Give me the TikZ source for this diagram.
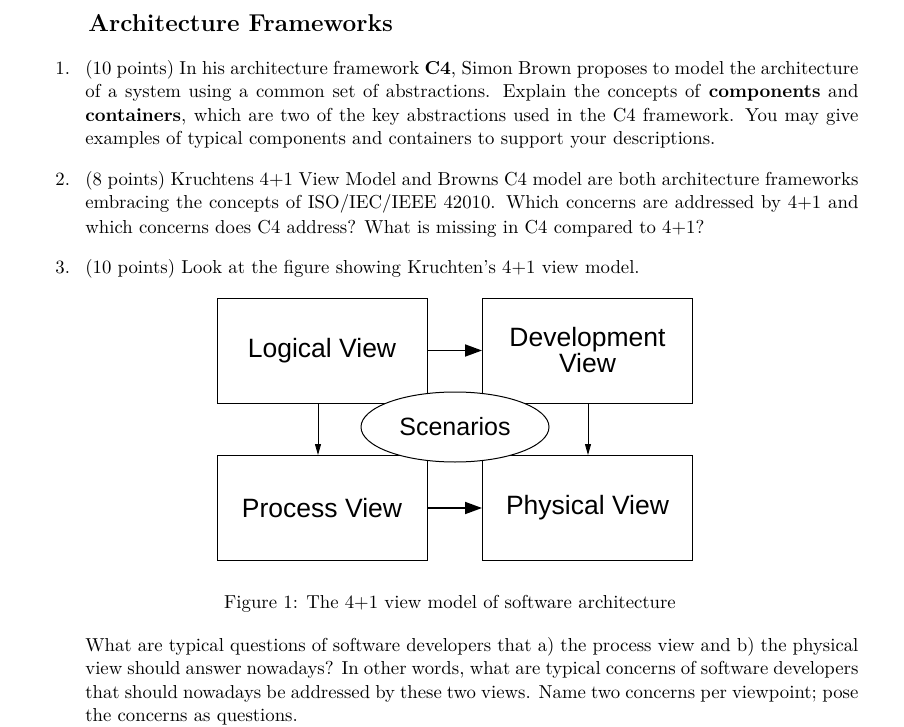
\documentclass[tikz,border=0pt]{standalone}
\usepackage{fontspec}
\newfontfamily\hv{Liberation Sans}
\usetikzlibrary{shapes.geometric,arrows.meta}
\begin{document}
\begin{tikzpicture}[x=1pt,y=-1pt,
  line/.style={anchor=base west,inner sep=0pt,scale=1.875,font=\fontsize{10}{12}\selectfont},
  box/.style={draw,line width=1pt,minimum width=210pt,minimum height=105pt,font=\hv\fontsize{26.5}{29}\selectfont,align=center},
  arr/.style={-{Triangle[length=17pt,width=12pt]},line width=1.8pt},
  varr/.style={-{Triangle[length=11pt,width=6pt]},line width=0.8pt}]
\useasboundingbox (0,0) rectangle (904,727);
\node[line,font=\bfseries\fontsize{13}{15}\selectfont] (title) at (88,32) {Architecture Frameworks};
\newcommand\jl[1]{\makebox[412.3pt][s]{#1}}
\node[line] (n1) at (55,75) {1.};
\node[line] (a1) at (85,75) {\jl{(10 points) In his architecture framework \textbf{C4}, Simon Brown proposes to model the architecture}};
\node[line] (a2) at (85,98) {\jl{of a system using a common set of abstractions. Explain the concepts of \textbf{components} and}};
\node[line] (a3) at (85,122) {\jl{\textbf{containers}, which are two of the key abstractions used in the C4 framework. You may give}};
\node[line] (a4) at (85,145) {examples of typical components and containers to support your descriptions.};
\node[line] (n2) at (55,186) {2.};
\node[line] (b1) at (85,186) {\jl{(8 points) Kruchtens 4+1 View Model and Browns C4 model are both architecture frameworks}};
\node[line] (b2) at (85,209) {\jl{embracing the concepts of ISO/IEC/IEEE 42010. Which concerns are addressed by 4+1 and}};
\node[line] (b3) at (85,233) {which concerns does C4 address? What is missing in C4 compared to 4+1?};
\node[line] (n3) at (55,273) {3.};
\node[line] (c1) at (85,273) {(10 points) Look at the figure showing Kruchten's 4+1 view model.};
\node[box] (log) at (322,350.5) {Logical View};
\node[box] (dev) at (587.5,350.5) {Development\\[-3pt]View};
\node[box] (pro) at (322,508) {Process View};
\node[box] (phy) at (587.5,508) {Physical View};
\node[draw,fill=white,ellipse,line width=1pt,minimum width=188pt,minimum height=70pt,font=\hv\fontsize{25}{28}\selectfont] (sc) at (455,427) {Scenarios};
\draw[arr] (log.east) -- (dev.west);
\draw[arr] (pro.east) -- (phy.west);
\draw[varr] (log.south -| 318,0) -- (pro.north -| 318,0);
\draw[varr] (dev.south -| 588,0) -- (phy.north -| 588,0);
\node[anchor=base,inner sep=0pt,scale=1.875,font=\fontsize{10}{12}\selectfont] (cap) at (450,608) {Figure 1: The 4+1 view model of software architecture};
\node[line] (d1) at (85,651) {\jl{What are typical questions of software developers that a) the process view and b) the physical}};
\node[line] (d2) at (85,674) {\jl{view should answer nowadays? In other words, what are typical concerns of software developers}};
\node[line] (d3) at (85,698) {\jl{that should nowadays be addressed by these two views. Name two concerns per viewpoint; pose}};
\node[line] (d4) at (85,721) {the concerns as questions.};
\end{tikzpicture}
\end{document}
